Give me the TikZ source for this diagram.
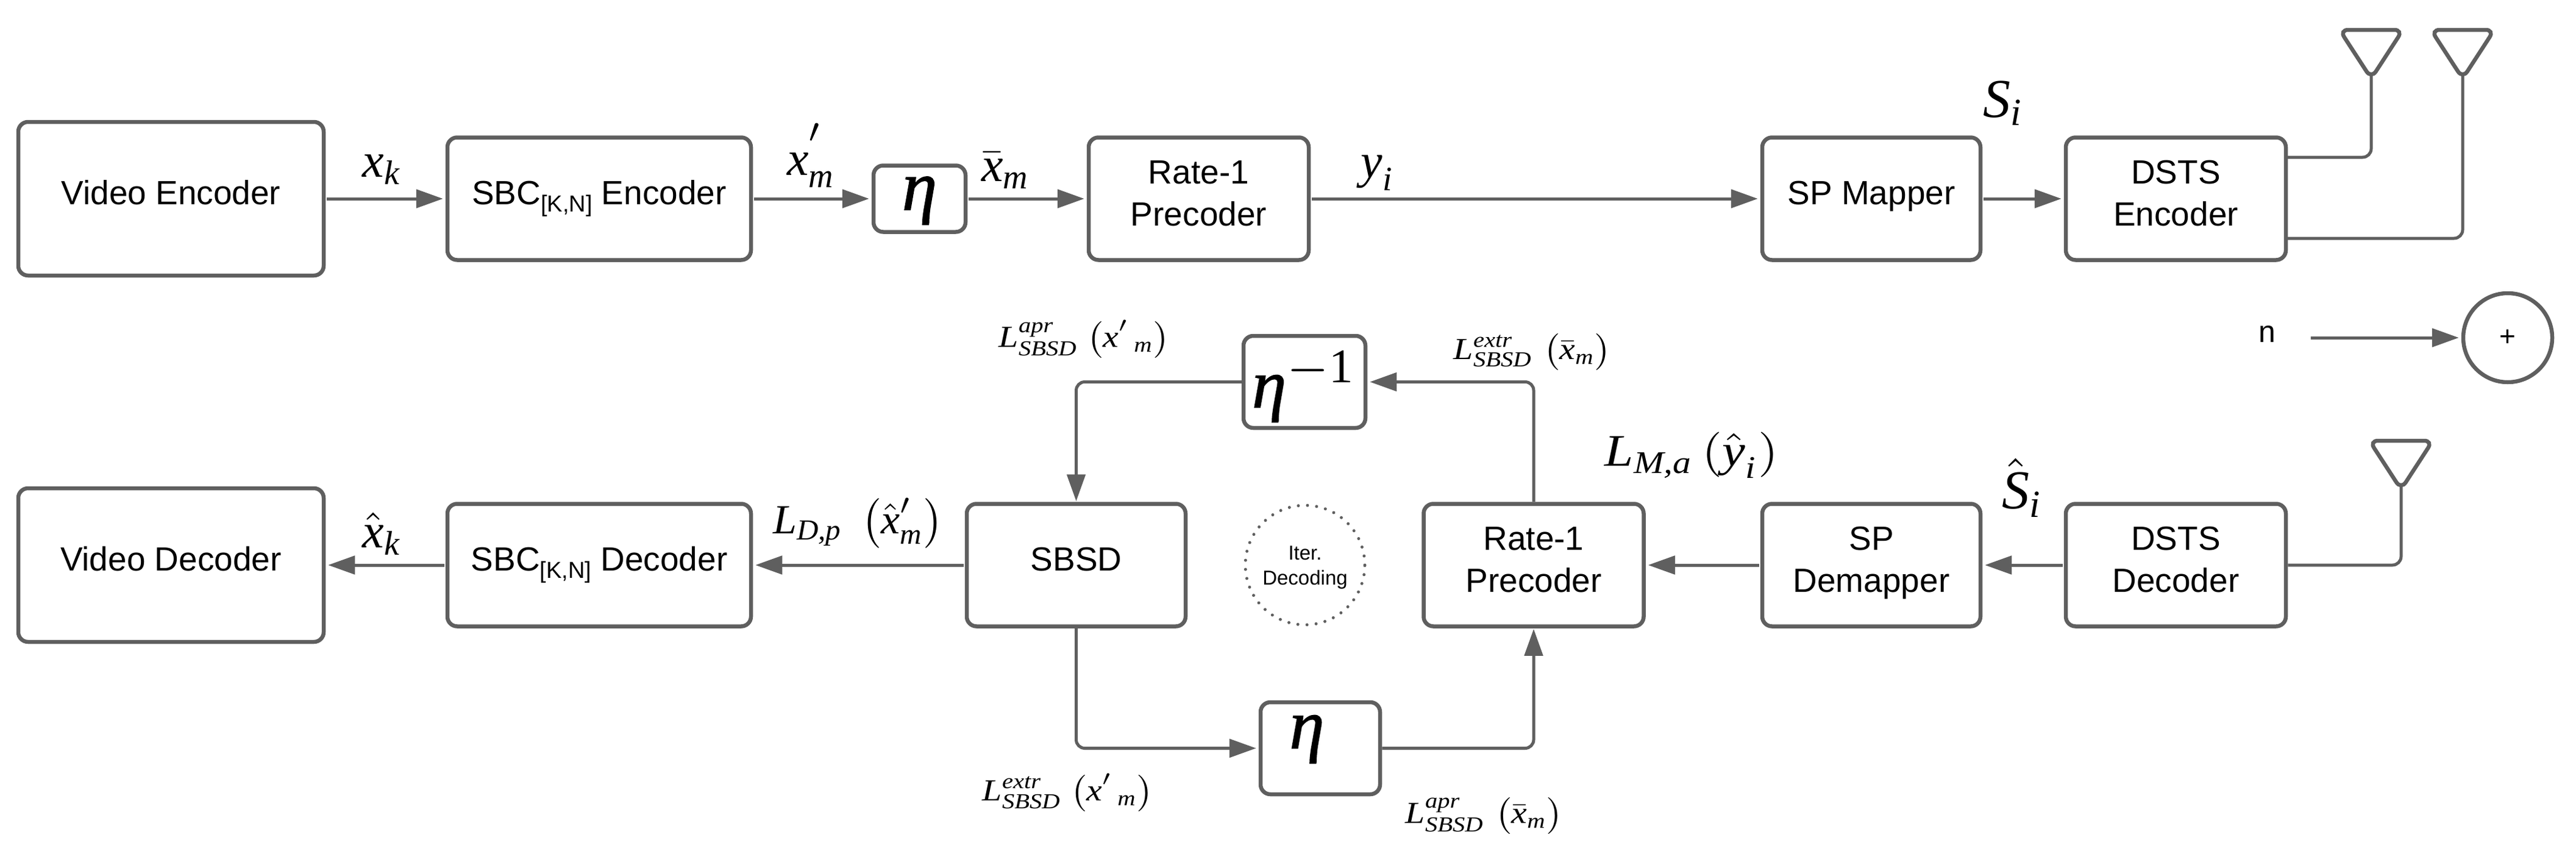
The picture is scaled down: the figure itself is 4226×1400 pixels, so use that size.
\documentclass[tikz,border=0pt]{standalone}
\usepackage{amsmath}
\usepackage{fontspec}
\setmainfont{Liberation Sans}
\newfontfamily\mifont{Liberation Serif}
\newfontfamily\etafont[ItalicFeatures={FakeBold=1.3}]{Liberation Serif}
\usetikzlibrary{arrows.meta,shapes.geometric,calc}
\newcommand{\mv}[1]{\text{\mifont\itshape #1}}
\newcommand{\bt}[1]{\raisebox{-2pt}[0pt][0pt]{\begin{tabular}{@{}c@{}}#1\end{tabular}}}
\newcommand{\sbc}{SBC\raisebox{-12pt}{\fontsize{38}{38}\selectfont [K,N]}}
\newcommand{\bigeta}[1]{\raisebox{#1}[0pt][0pt]{\fontsize{115}{115}\selectfont\etafont\itshape η}}
\newcommand{\tick}[1]{^{\raisebox{#1}{$\scriptstyle\prime$}}}
\definecolor{ln}{HTML}{5F5F5F}
\tikzset{
  x=1pt,y=-1pt,
  box/.style={draw=ln,line width=6.5pt,rounded corners=16pt,fill=white,inner sep=0pt,font=\fontsize{55}{69}\selectfont},
  wire/.style={draw=ln,line width=5pt,rounded corners=14pt},
  arr/.style={wire,-{Triangle[length=44pt,width=30pt]},shorten >=4pt,shorten <=2pt},
  ant/.style={draw=ln,line width=6.5pt,isosceles triangle,shape border rotate=-90,isosceles triangle stretches,minimum width=104pt,minimum height=80pt,inner sep=0pt,outer sep=0pt,rounded corners=14pt},
  lab/.style={inner sep=0pt,text=black},
}
\begin{document}
\begin{tikzpicture}
\useasboundingbox (0,0) rectangle (4226,1400);
% top row
\node[box,minimum width=501pt,minimum height=252pt] (ve) at (280.5,326) {\bt{Video Encoder}};
\node[box,minimum width=498pt,minimum height=201pt] (sbce) at (983,326) {\bt{\sbc{} Encoder}};
\node[box,minimum width=151pt,minimum height=109pt] (eta) at (1508.5,326) {\bigeta{-18pt}};
\node[box,minimum width=361pt,minimum height=201pt] (rate) at (1966.5,326) {\bt{Rate-1\\Precoder}};
\node[box,minimum width=358pt,minimum height=201pt] (spm) at (3070,326) {\bt{SP Mapper}};
\node[box,minimum width=361pt,minimum height=201pt] (dste) at (3569.5,326) {\bt{DSTS\\Encoder}};
\node[ant,anchor=apex] (a1) at (3890,129) {};
\node[ant,anchor=apex] (a2) at (4040,129) {};
\coordinate (o1) at (3753,258);
\coordinate (o2) at (3753,391);
\draw[wire,shorten >=-4pt] (o1) -| (a1.apex);
\draw[wire,shorten >=-4pt] (o2) -| (a2.apex);
\draw[arr] (ve.east) -- (sbce.west);
\draw[arr] (sbce.east) -- (eta.west);
\draw[arr] (eta.east) -- (rate.west);
\draw[arr] (rate.east) -- (spm.west);
\draw[arr] (spm.east) -- (dste.west);
% noise
\node[draw=ln,line width=6.5pt,circle,minimum size=146pt,inner sep=0pt,font=\fontsize{46}{46}\selectfont] (plus) at (4114,554) {+};
\node[lab,font=\fontsize{50}{50}\selectfont] (n) at (3719,548) {n};
\coordinate (na) at (3791,554);
\draw[arr,shorten <=0pt,shorten >=4pt] (na) -- (plus.west);
% bottom row
\node[box,minimum width=501pt,minimum height=252pt] (vd) at (280.5,927) {\bt{Video Decoder}};
\node[box,minimum width=498pt,minimum height=201pt] (sbcd) at (983,927) {\bt{\sbc{} Decoder}};
\node[box,minimum width=359pt,minimum height=201pt] (sbsd) at (1765.5,927) {\bt{SBSD}};
\node[box,minimum width=361pt,minimum height=201pt] (rated) at (2516,927) {\bt{Rate-1\\Precoder}};
\node[box,minimum width=358pt,minimum height=201pt] (spd) at (3070,927) {\bt{SP\\Demapper}};
\node[box,minimum width=361pt,minimum height=201pt] (dstd) at (3569.5,927) {\bt{DSTS\\Decoder}};
\node[ant,anchor=apex] (a3) at (3939,803) {};
\node[box,minimum width=200pt,minimum height=151pt] (etai) at (2140,626.5) {\raisebox{-42pt}[0pt][0pt]{\scalebox{11.3}{\fontsize{10}{12}\selectfont$\text{\etafont\itshape η}^{-\text{\mifont 1}}$}}};
\node[box,minimum width=196pt,minimum height=151pt] (etab) at (2166,1227.5) {\bigeta{0pt}\hspace{44pt}\mbox{}};
\node[draw=ln,line width=5pt,circle,minimum size=196pt,inner sep=0pt,dash pattern=on 0pt off 15pt,line cap=round,font=\fontsize{33}{41}\selectfont] (iter) at (2141,927) {\raisebox{-10pt}[0pt][0pt]{\begin{tabular}{@{}c@{}}Iter.\\Decoding\end{tabular}}};
\draw[wire,shorten >=-4pt] (dstd.east) -| (a3.apex);
\draw[arr] (dstd.west) -- (spd.east);
\draw[arr] (spd.west) -- (rated.east);
\draw[arr] (sbsd.west) -- (sbcd.east);
\draw[arr] (sbcd.west) -- (vd.east);
\draw[arr,shorten <=0pt] (rated.north) |- (etai.east);
\draw[arr,shorten <=0pt,shorten >=1pt] (etai.west) -| (sbsd.north);
\draw[arr,shorten <=0pt] (sbsd.south) |- (etab.west);
\draw[arr,shorten <=0pt,shorten >=1pt] (etab.east) -| (rated.south);
% labels
\node[lab,scale=8] (l1) at (627,278) {$\mv{x}_{\mv{k}}$};
\node[lab,scale=8] (l2) at (1331,255) {$\mv{x}\tick{3.2pt}_{\mv{m}}$};
\node[lab,scale=8] (l3) at (1650,280) {$\bar{\mv{x}}_{\mv{m}}$};
\node[lab,scale=8] (l4) at (2260,284) {$\mv{y}_{\mv{i}}$};
\node[lab,scale=9] (l5) at (3287,169) {$\mv{S}_{\mv{i}}$};
\node[lab,xscale=5.8,yscale=5] (l6) at (1779,556) {$\mv{L}^{\mv{apr}}_{\mv{SBSD}}\hspace{2.5pt}\bigl(\mv{x}\tick{1.5pt}\hspace{1.5pt}{}_{\mv{m}}\bigr)$};
\node[lab,xscale=5.8,yscale=5] (l7) at (2514,577) {$\mv{L}^{\mv{extr}}_{\mv{SBSD}}\hspace{3pt}\bigl(\bar{\mv{x}}_{\mv{m}}\bigr)$};
\node[lab,xscale=7,yscale=6.8] (l8) at (1408,858) {$\mv{L}_{\mv{D,p}}\ \left(\hat{\mv{x}}^{\prime}_{\mv{m}}\right)$};
\node[lab,scale=8] (l9) at (627,876) {$\hat{\mv{x}}_{\mv{k}}$};
\node[lab,xscale=5.8,yscale=5] (l10) at (1752,1300) {$\mv{L}^{\mv{extr}}_{\mv{SBSD}}\hspace{2.5pt}\bigl(\mv{x}\tick{1.5pt}\hspace{1.5pt}{}_{\mv{m}}\bigr)$};
\node[lab,xscale=8.5,yscale=7.4] (l11) at (2775,747) {$\mv{L}_{\mv{M,a}}\left(\hat{\mv{y}}_{\mv{i}}\right)$};
\node[lab,scale=9] (l12) at (3318,800) {$\hat{\mv{S}}_{\mv{i}}$};
\node[lab,xscale=5.8,yscale=5] (l13) at (2435,1338) {$\mv{L}^{\mv{apr}}_{\mv{SBSD}}\hspace{3pt}\bigl(\bar{\mv{x}}_{\mv{m}}\bigr)$};
\end{tikzpicture}
\end{document}
